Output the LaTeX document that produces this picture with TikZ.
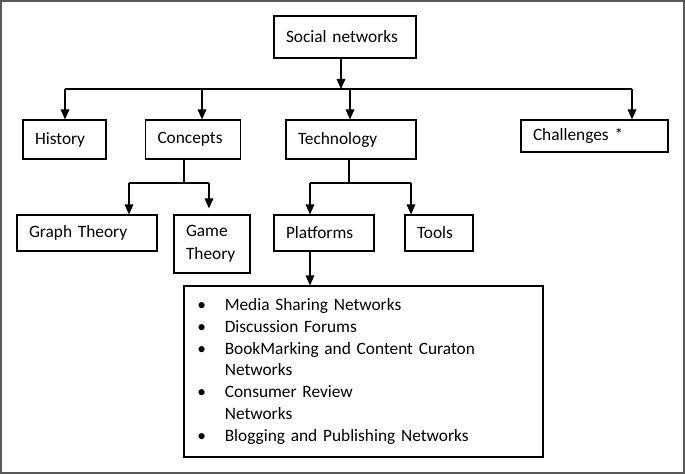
\documentclass[tikz,border=0pt]{standalone}
\usepackage{fontspec}
\setmainfont{Carlito}
\usepackage{tikz}
\usetikzlibrary{positioning, calc, arrows.meta}

\begin{document}
\begin{tikzpicture}[
        x=0.75pt, y=-0.75pt,
        blk/.style={draw=black, line width=0.9pt, inner xsep=9pt, inner ysep=0pt, align=left, font=\fontsize{13}{16.3}\selectfont},
        link/.style={line width=0.9pt},
        arr/.style={-{Triangle[length=7.5pt, width=6.5pt]}, line width=0.9pt}
    ]
        \useasboundingbox (0,0) rectangle (685,474);
        \draw[draw=black!65, line width=1.2pt] (1,1) rectangle (684,473);

        \node[blk, text width=88.5pt, minimum height=31.5pt] (social) at (345,37) {Social networks};
        \node[blk, text width=44.25pt, minimum height=29.25pt] (history) at (64.5,139.5) {History};
        \node[blk, text width=53.25pt, minimum height=29.25pt] (concepts) at (193,139.5) {Concepts};
        \node[blk, text width=79.5pt, minimum height=29.25pt] (tech) at (351,139.5) {Technology};
        \node[blk, text width=92.25pt, minimum height=24pt] (chall) at (594.5,136) {Challenges *};
        \node[blk, text width=87pt, minimum height=27pt] (graph) at (87,233) {Graph Theory};
        \node[blk, text width=39pt, minimum height=43.5pt] (game) at (212,244) {Game\\[1.3pt]Theory};
        \node[blk, text width=57pt, minimum height=27pt] (platforms) at (324,233) {Platforms};
        \node[blk, text width=33pt, minimum height=27pt] (tools) at (439,233) {Tools};
        \node[blk, inner xsep=10pt, text width=249.25pt, minimum height=128.25pt] (list) at (363.5,371.5) {%
            \begin{tabular}{@{}p{20.6pt}@{}l@{}}
                \textbullet & Media Sharing Networks\\
                \textbullet & Discussion Forums\\
                \textbullet & BookMarking and Content Curaton\\
                            & Networks\\
                \textbullet & Consumer Review\\
                            & Networks\\
                \textbullet & Blogging and Publishing Networks
            \end{tabular}};

        % first level
        \coordinate (bus) at (341,89);
        \coordinate (dH) at (65,89);
        \coordinate (dC) at (202,89);
        \coordinate (dT) at (350,89);
        \coordinate (dX) at (632,89);
        \draw[arr] (social.south -| bus) -- (bus);
        \draw[link] (dH) -- (dX);
        \foreach \d/\n in {dH/history, dC/concepts, dT/tech, dX/chall}
            \draw[arr] (\d) -- (\d |- \n.north);

        % concepts
        \coordinate (cj) at (184,183);
        \coordinate (dG) at (129,183);
        \coordinate (dM) at (209,183);
        \draw[link] (concepts.south -| cj) -- (cj);
        \draw[link] (dG) -- (dM);
        \draw[arr] (dG) -- (dG |- graph.north);
        \draw[arr] (dM) -- ($(dM |- game.north)+(0,-6)$);

        % technology
        \coordinate (tj) at (349,183);
        \coordinate (dP) at (310,183);
        \coordinate (dO) at (411,183);
        \draw[link] (tech.south -| tj) -- (tj);
        \draw[link] (dP) -- (dO);
        \draw[arr] (dP) -- (dP |- platforms.north);
        \draw[arr] (dO) -- (dO |- tools.north);
        \draw[arr] (dP |- platforms.south) -- (dP |- list.north);
    \end{tikzpicture}
\end{document}
